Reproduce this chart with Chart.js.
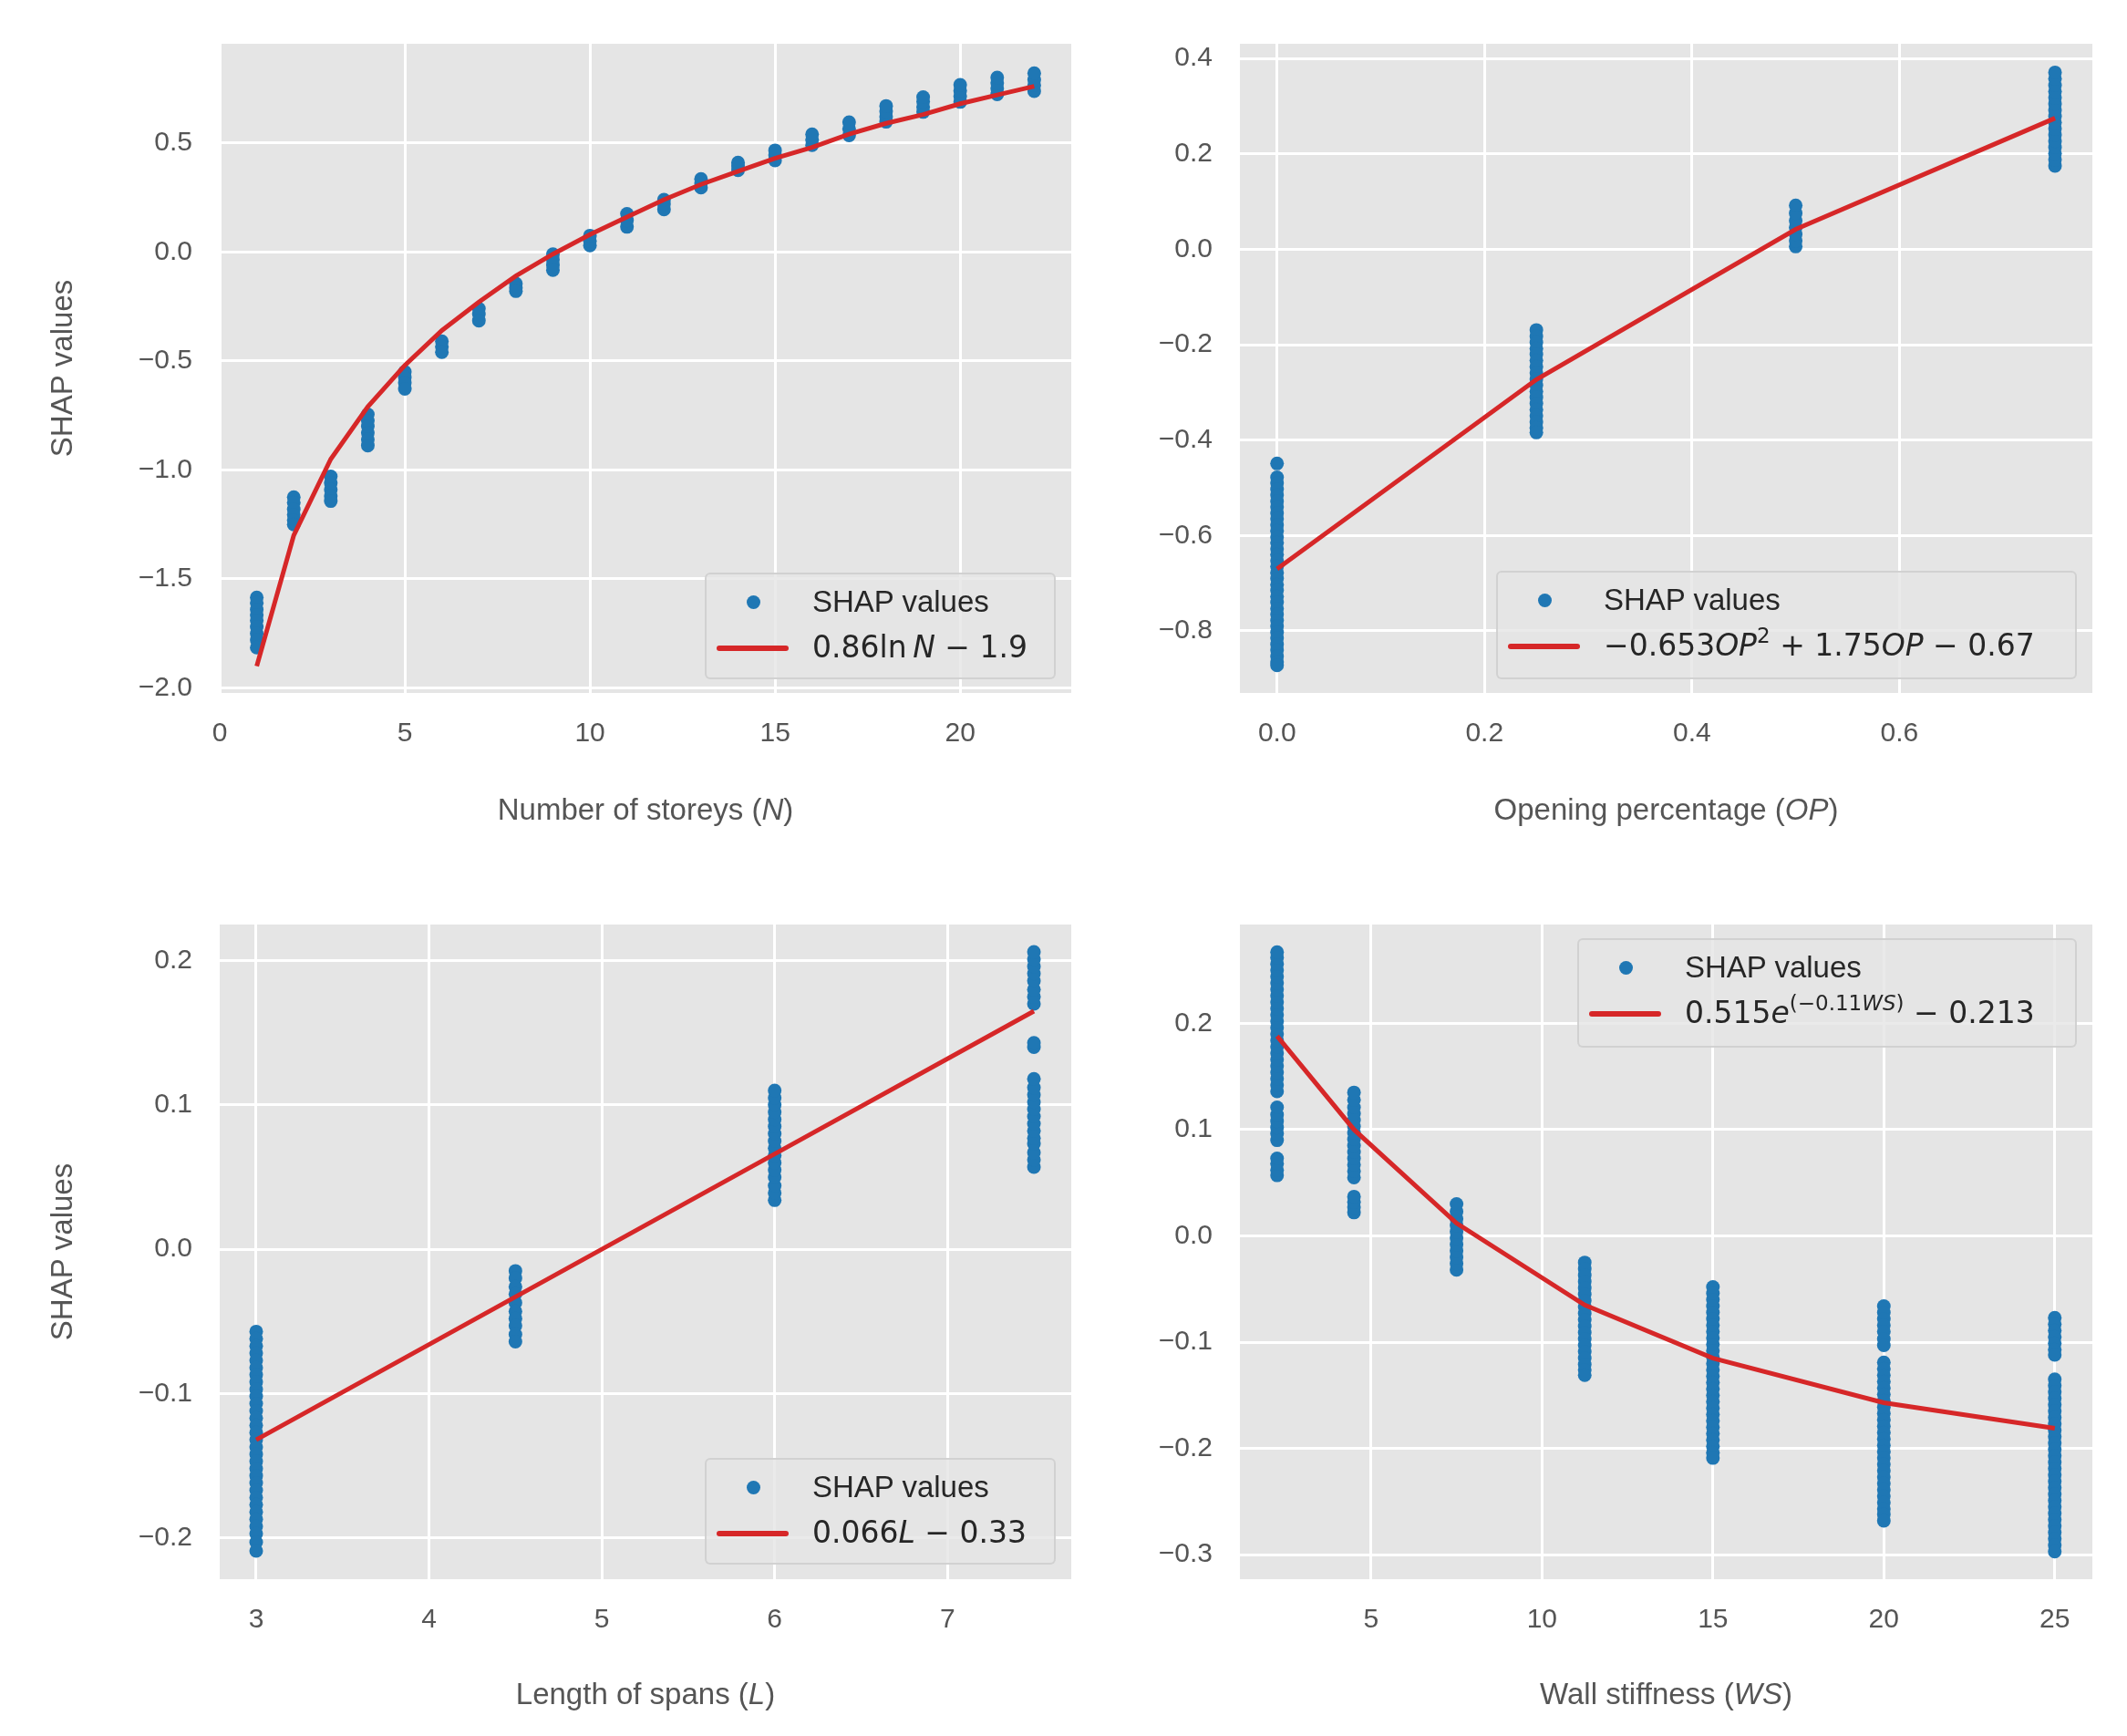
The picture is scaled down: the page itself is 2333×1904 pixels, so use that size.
<!DOCTYPE html>
<html>
<head>
<meta charset="utf-8">
<title>SHAP values</title>
<script src="https://cdn.jsdelivr.net/npm/chart.js@4/dist/chart.umd.js"></script>
<style>
  body { margin: 0; background: #fff; width: 2333px; height: 1904px; position: relative; overflow: hidden;
         font-family: "Liberation Sans", Arial, sans-serif; }
  canvas { position: absolute; }
  .xtitle { position: absolute; transform: translate(-50%, -50%); color: #555; font-size: 33px; white-space: nowrap; }
  .xtitle i { font-family: "Liberation Sans"; }
  .legend { position: absolute; box-sizing: border-box; background: rgba(229,229,229,0.8);
            border: 2.5px solid rgba(204,204,204,0.8); border-radius: 6px; color: #262626; }
  .legend .dot { position: absolute; left: 44px; top: 23px; width: 15px; height: 15px; border-radius: 50%; background: #1f77b4; }
  .legend .dash { position: absolute; left: 11px; top: 78px; width: 79px; height: 5.5px; border-radius: 3px; background: #d62728; }
  .legend .name { position: absolute; left: 116px; top: 11px; font-size: 33px; line-height: 38px; white-space: nowrap; }
  .legend .eq { position: absolute; left: 116px; top: 59px; font-family: "DejaVu Sans"; font-size: 33px; line-height: 42px; white-space: nowrap; }
  .legend .eq sup { font-size: 23px; line-height: 0; vertical-align: 14px; }
</style>
</head>
<body>
<script>
// NUMBER OF STOREYS
const storeyX = [1, 2, 3, 4, 5, 6, 7, 8, 9, 10, 11, 12, 13, 14, 15, 16, 17, 18, 19, 20, 21, 22];
const storeyShap = [
  [-1.585, -1.61, -1.64, -1.665, -1.69, -1.72, -1.75, -1.78, -1.815],
  [-1.125, -1.15, -1.18, -1.205, -1.23, -1.25],
  [-1.03, -1.06, -1.09, -1.12, -1.143],
  [-0.745, -0.775, -0.8, -0.83, -0.86, -0.888],
  [-0.55, -0.575, -0.6, -0.628],
  [-0.41, -0.435, -0.46],
  [-0.26, -0.285, -0.315],
  [-0.145, -0.165, -0.18],
  [-0.01, -0.035, -0.06, -0.083],
  [0.03, 0.05, 0.075],
  [0.115, 0.145, 0.175],
  [0.195, 0.22, 0.24],
  [0.295, 0.315, 0.335],
  [0.375, 0.395, 0.41],
  [0.42, 0.445, 0.466],
  [0.49, 0.515, 0.54],
  [0.535, 0.565, 0.595],
  [0.597, 0.62, 0.645, 0.67],
  [0.642, 0.665, 0.69, 0.71],
  [0.688, 0.715, 0.74, 0.767],
  [0.723, 0.75, 0.775, 0.8],
  [0.738, 0.765, 0.79, 0.82],
];
const storeyFit = [-1.9, -1.3, -0.95, -0.71, -0.52, -0.36, -0.23, -0.11, -0.01, 0.08, 0.16, 0.24, 0.31, 0.37, 0.43, 0.48, 0.54, 0.59, 0.63, 0.68, 0.72, 0.76];
const storeyXTicks = [0, 5, 10, 15, 20];
const storeyYTicks = [-2, -1.5, -1, -0.5, 0, 0.5];

// OPENING PERCENTAGE
const openingX = [0, 0.25, 0.5, 0.75];
const openingShap = [
  [-0.449, -0.478, -0.49, -0.503, -0.515, -0.528, -0.54, -0.553, -0.565, -0.578, -0.59, -0.603, -0.615, -0.628, -0.64, -0.653, -0.665, -0.678, -0.69, -0.703, -0.715, -0.728, -0.74, -0.753, -0.765, -0.778, -0.79, -0.803, -0.815, -0.828, -0.84, -0.853, -0.865, -0.872],
  [-0.169, -0.182, -0.195, -0.208, -0.22, -0.233, -0.246, -0.259, -0.272, -0.285, -0.298, -0.31, -0.323, -0.336, -0.349, -0.362, -0.374, -0.384],
  [0.006, 0.018, 0.032, 0.046, 0.06, 0.076, 0.092],
  [0.175, 0.188, 0.201, 0.214, 0.227, 0.24, 0.253, 0.266, 0.279, 0.292, 0.305, 0.318, 0.331, 0.344, 0.358, 0.371],
];
const openingFit = [-0.67, -0.273, 0.042, 0.275];
const openingXTicks = [0, 0.2, 0.4, 0.6];
const openingYTicks = [-0.8, -0.6, -0.4, -0.2, 0, 0.2, 0.4];

// LENGTH OF SPANS
const spanX = [3, 4.5, 6, 7.5];
const spanShap = [
  [-0.057, -0.062, -0.067, -0.072, -0.077, -0.082, -0.087, -0.092, -0.097, -0.102, -0.107, -0.112, -0.117, -0.122, -0.127, -0.132, -0.137, -0.142, -0.147, -0.152, -0.157, -0.162, -0.167, -0.172, -0.177, -0.182, -0.187, -0.192, -0.197, -0.203, -0.209],
  [-0.015, -0.02, -0.026, -0.031, -0.037, -0.043, -0.048, -0.053, -0.059, -0.064],
  [0.034, 0.039, 0.044, 0.05, 0.055, 0.06, 0.065, 0.07, 0.075, 0.08, 0.085, 0.09, 0.095, 0.1, 0.105, 0.11],
  [0.057, 0.062, 0.067, 0.073, 0.077, 0.082, 0.087, 0.092, 0.097, 0.102, 0.107, 0.112, 0.118, 0.14, 0.143, 0.17, 0.175, 0.18, 0.186, 0.191, 0.196, 0.201, 0.206],
];
const spanFit = [-0.132, -0.033, 0.066, 0.165];
const spanXTicks = [3, 4, 5, 6, 7];
const spanYTicks = [-0.2, -0.1, 0, 0.1, 0.2];

// WALL STIFFNESS
const wallX = [2.25, 4.5, 7.5, 11.25, 15, 20, 25];
const wallShap = [
  [0.057, 0.062, 0.068, 0.073, 0.09, 0.096, 0.102, 0.108, 0.114, 0.121, 0.136, 0.142, 0.148, 0.154, 0.16, 0.166, 0.172, 0.178, 0.184, 0.19, 0.196, 0.202, 0.208, 0.214, 0.22, 0.226, 0.232, 0.238, 0.244, 0.25, 0.256, 0.262, 0.267],
  [0.022, 0.027, 0.032, 0.037, 0.055, 0.061, 0.067, 0.073, 0.079, 0.085, 0.091, 0.097, 0.103, 0.109, 0.115, 0.121, 0.128, 0.135],
  [-0.032, -0.026, -0.02, -0.014, -0.008, -0.002, 0.004, 0.01, 0.016, 0.023, 0.03],
  [-0.025, -0.031, -0.037, -0.043, -0.049, -0.055, -0.061, -0.067, -0.073, -0.079, -0.085, -0.091, -0.097, -0.103, -0.109, -0.115, -0.121, -0.126, -0.131],
  [-0.048, -0.054, -0.06, -0.066, -0.072, -0.078, -0.084, -0.09, -0.096, -0.102, -0.108, -0.114, -0.12, -0.126, -0.132, -0.138, -0.144, -0.15, -0.156, -0.162, -0.168, -0.174, -0.18, -0.186, -0.192, -0.198, -0.204, -0.209],
  [-0.066, -0.072, -0.078, -0.084, -0.09, -0.097, -0.103, -0.119, -0.125, -0.131, -0.137, -0.143, -0.149, -0.155, -0.161, -0.167, -0.173, -0.179, -0.185, -0.191, -0.197, -0.203, -0.209, -0.215, -0.221, -0.227, -0.233, -0.239, -0.245, -0.251, -0.257, -0.262, -0.268],
  [-0.077, -0.083, -0.089, -0.095, -0.101, -0.107, -0.112, -0.135, -0.141, -0.147, -0.153, -0.159, -0.165, -0.171, -0.177, -0.183, -0.189, -0.195, -0.201, -0.207, -0.213, -0.219, -0.225, -0.231, -0.237, -0.243, -0.249, -0.255, -0.261, -0.267, -0.273, -0.279, -0.285, -0.291, -0.297],
];
const wallFit = [0.188, 0.1, 0.012, -0.065, -0.115, -0.157, -0.181];
const wallXTicks = [5, 10, 15, 20, 25];
const wallYTicks = [-0.3, -0.2, -0.1, 0, 0.1, 0.2];

const legendName = "SHAP values";

// bloque gris detras de la grilla
const panelBg = {
  id: "panelBg",
  beforeDraw(chart) {
    const a = chart.chartArea;
    chart.ctx.fillStyle = "#E5E5E5";
    chart.ctx.fillRect(a.left, a.top, a.right - a.left, a.bottom - a.top);
  },
};

const fmtTick = (digits) => (v) => v.toFixed(digits).replace("-", "\u2212");

function addPanel(p) {
  const canvas = document.createElement("canvas");
  canvas.width = p.box[2];
  canvas.height = p.box[3];
  canvas.style.left = p.box[0] + "px";
  canvas.style.top = p.box[1] + "px";
  document.body.appendChild(canvas);

  const points = p.x.flatMap((x, i) => p.shap[i].map((y) => ({ x, y })));
  const fit = p.x.map((x, i) => ({ x, y: p.fit[i] }));
  const tickFont = { family: "Liberation Sans", size: 30 };

  new Chart(canvas, {
    type: "scatter",
    data: {
      datasets: [
        { label: legendName, data: points, order: 2, backgroundColor: "#1f77b4", borderWidth: 0, pointRadius: 7.5 },
        { type: "line", label: "fit", data: fit, order: 1, borderColor: "#d62728", borderWidth: 5, pointRadius: 0, fill: false, tension: 0 },
      ],
    },
    options: {
      responsive: false,
      animation: false,
      layout: {
        autoPadding: false,
        padding: { left: 0, top: p.plot.top - p.box[1], right: p.box[0] + p.box[2] - p.plot.right, bottom: 0 },
      },
      plugins: { legend: { display: false }, tooltip: { enabled: false } },
      scales: {
        x: {
          type: "linear",
          min: p.xRange[0],
          max: p.xRange[1],
          afterBuildTicks: (s) => { s.ticks = p.xTicks.map((value) => ({ value })); },
          afterFit: (s) => { s.height = p.box[1] + p.box[3] - p.plot.bottom; },
          grid: { color: "#fff", lineWidth: 3, drawTicks: false },
          border: { display: false },
          ticks: { color: "#555", font: tickFont, padding: 27, maxRotation: 0, autoSkip: false, callback: fmtTick(p.xDigits) },
        },
        y: {
          type: "linear",
          min: p.yRange[0],
          max: p.yRange[1],
          afterBuildTicks: (s) => { s.ticks = p.yTicks.map((value) => ({ value })); },
          afterFit: (s) => { s.width = p.plot.left - p.box[0]; },
          grid: { color: "#fff", lineWidth: 3, drawTicks: false },
          border: { display: false },
          ticks: { color: "#555", font: tickFont, padding: 30, autoSkip: false, callback: fmtTick(p.yDigits) },
          title: {
            display: p.yTitle !== "",
            text: p.yTitle,
            color: "#555",
            font: { family: "Liberation Sans", size: 33 },
            padding: { top: 50, bottom: 0 },
          },
        },
      },
    },
    plugins: [panelBg],
  });

  const title = document.createElement("div");
  title.className = "xtitle";
  title.style.left = (p.plot.left + p.plot.right) / 2 + "px";
  title.style.top = p.xTitleY + "px";
  title.innerHTML = p.xTitle;
  document.body.appendChild(title);

  const legend = document.createElement("div");
  legend.className = "legend";
  legend.style.left = p.legend[0] + "px";
  legend.style.top = p.legend[1] + "px";
  legend.style.width = p.legend[2] + "px";
  legend.style.height = p.legend[3] + "px";
  legend.innerHTML = `<span class="dot"></span><span class="name">${legendName}</span><span class="dash"></span><span class="eq">${p.eq}</span>`;
  document.body.appendChild(legend);
}

addPanel({
  box: [0, 0, 1180, 950], plot: { left: 241, right: 1175, top: 42, bottom: 760 },
  x: storeyX, shap: storeyShap, fit: storeyFit, xTicks: storeyXTicks, yTicks: storeyYTicks,
  xRange: [0, 23], yRange: [-2.023, 0.955], xDigits: 0, yDigits: 1, yTitle: "SHAP values",
  xTitle: "Number of storeys (<i>N</i>)", xTitleY: 888,
  legend: [773, 628, 385, 117], eq: "0.86ln\u2009<i>N</i> \u2212 1.9",
});
addPanel({
  box: [1200, 0, 1133, 950], plot: { left: 1360, right: 2295, top: 42, bottom: 760 },
  x: openingX, shap: openingShap, fit: openingFit, xTicks: openingXTicks, yTicks: openingYTicks,
  xRange: [-0.0358, 0.786], yRange: [-0.93, 0.431], xDigits: 1, yDigits: 1, yTitle: "",
  xTitle: "Opening percentage (<i>OP</i>)", xTitleY: 888,
  legend: [1641, 626, 637, 119], eq: "\u22120.653<i>OP</i><sup>2</sup> + 1.75<i>OP</i> \u2212 0.67",
});
addPanel({
  box: [0, 950, 1180, 954], plot: { left: 241, right: 1175, top: 1014, bottom: 1732 },
  x: spanX, shap: spanShap, fit: spanFit, xTicks: spanXTicks, yTicks: spanYTicks,
  xRange: [2.789, 7.716], yRange: [-0.2286, 0.225], xDigits: 0, yDigits: 1, yTitle: "SHAP values",
  xTitle: "Length of spans (<i>L</i>)", xTitleY: 1858,
  legend: [773, 1599, 385, 117], eq: "0.066<i>L</i> \u2212 0.33",
});
addPanel({
  box: [1200, 950, 1133, 954], plot: { left: 1360, right: 2295, top: 1014, bottom: 1732 },
  x: wallX, shap: wallShap, fit: wallFit, xTicks: wallXTicks, yTicks: wallYTicks,
  xRange: [1.163, 26.1], yRange: [-0.323, 0.293], xDigits: 0, yDigits: 1, yTitle: "",
  xTitle: "Wall stiffness (<i>WS</i>)", xTitleY: 1858,
  legend: [1730, 1029, 548, 120], eq: "0.515<i>e</i><sup>(\u22120.11<i>WS</i>)</sup> \u2212 0.213",
});
</script>
</body>
</html>
